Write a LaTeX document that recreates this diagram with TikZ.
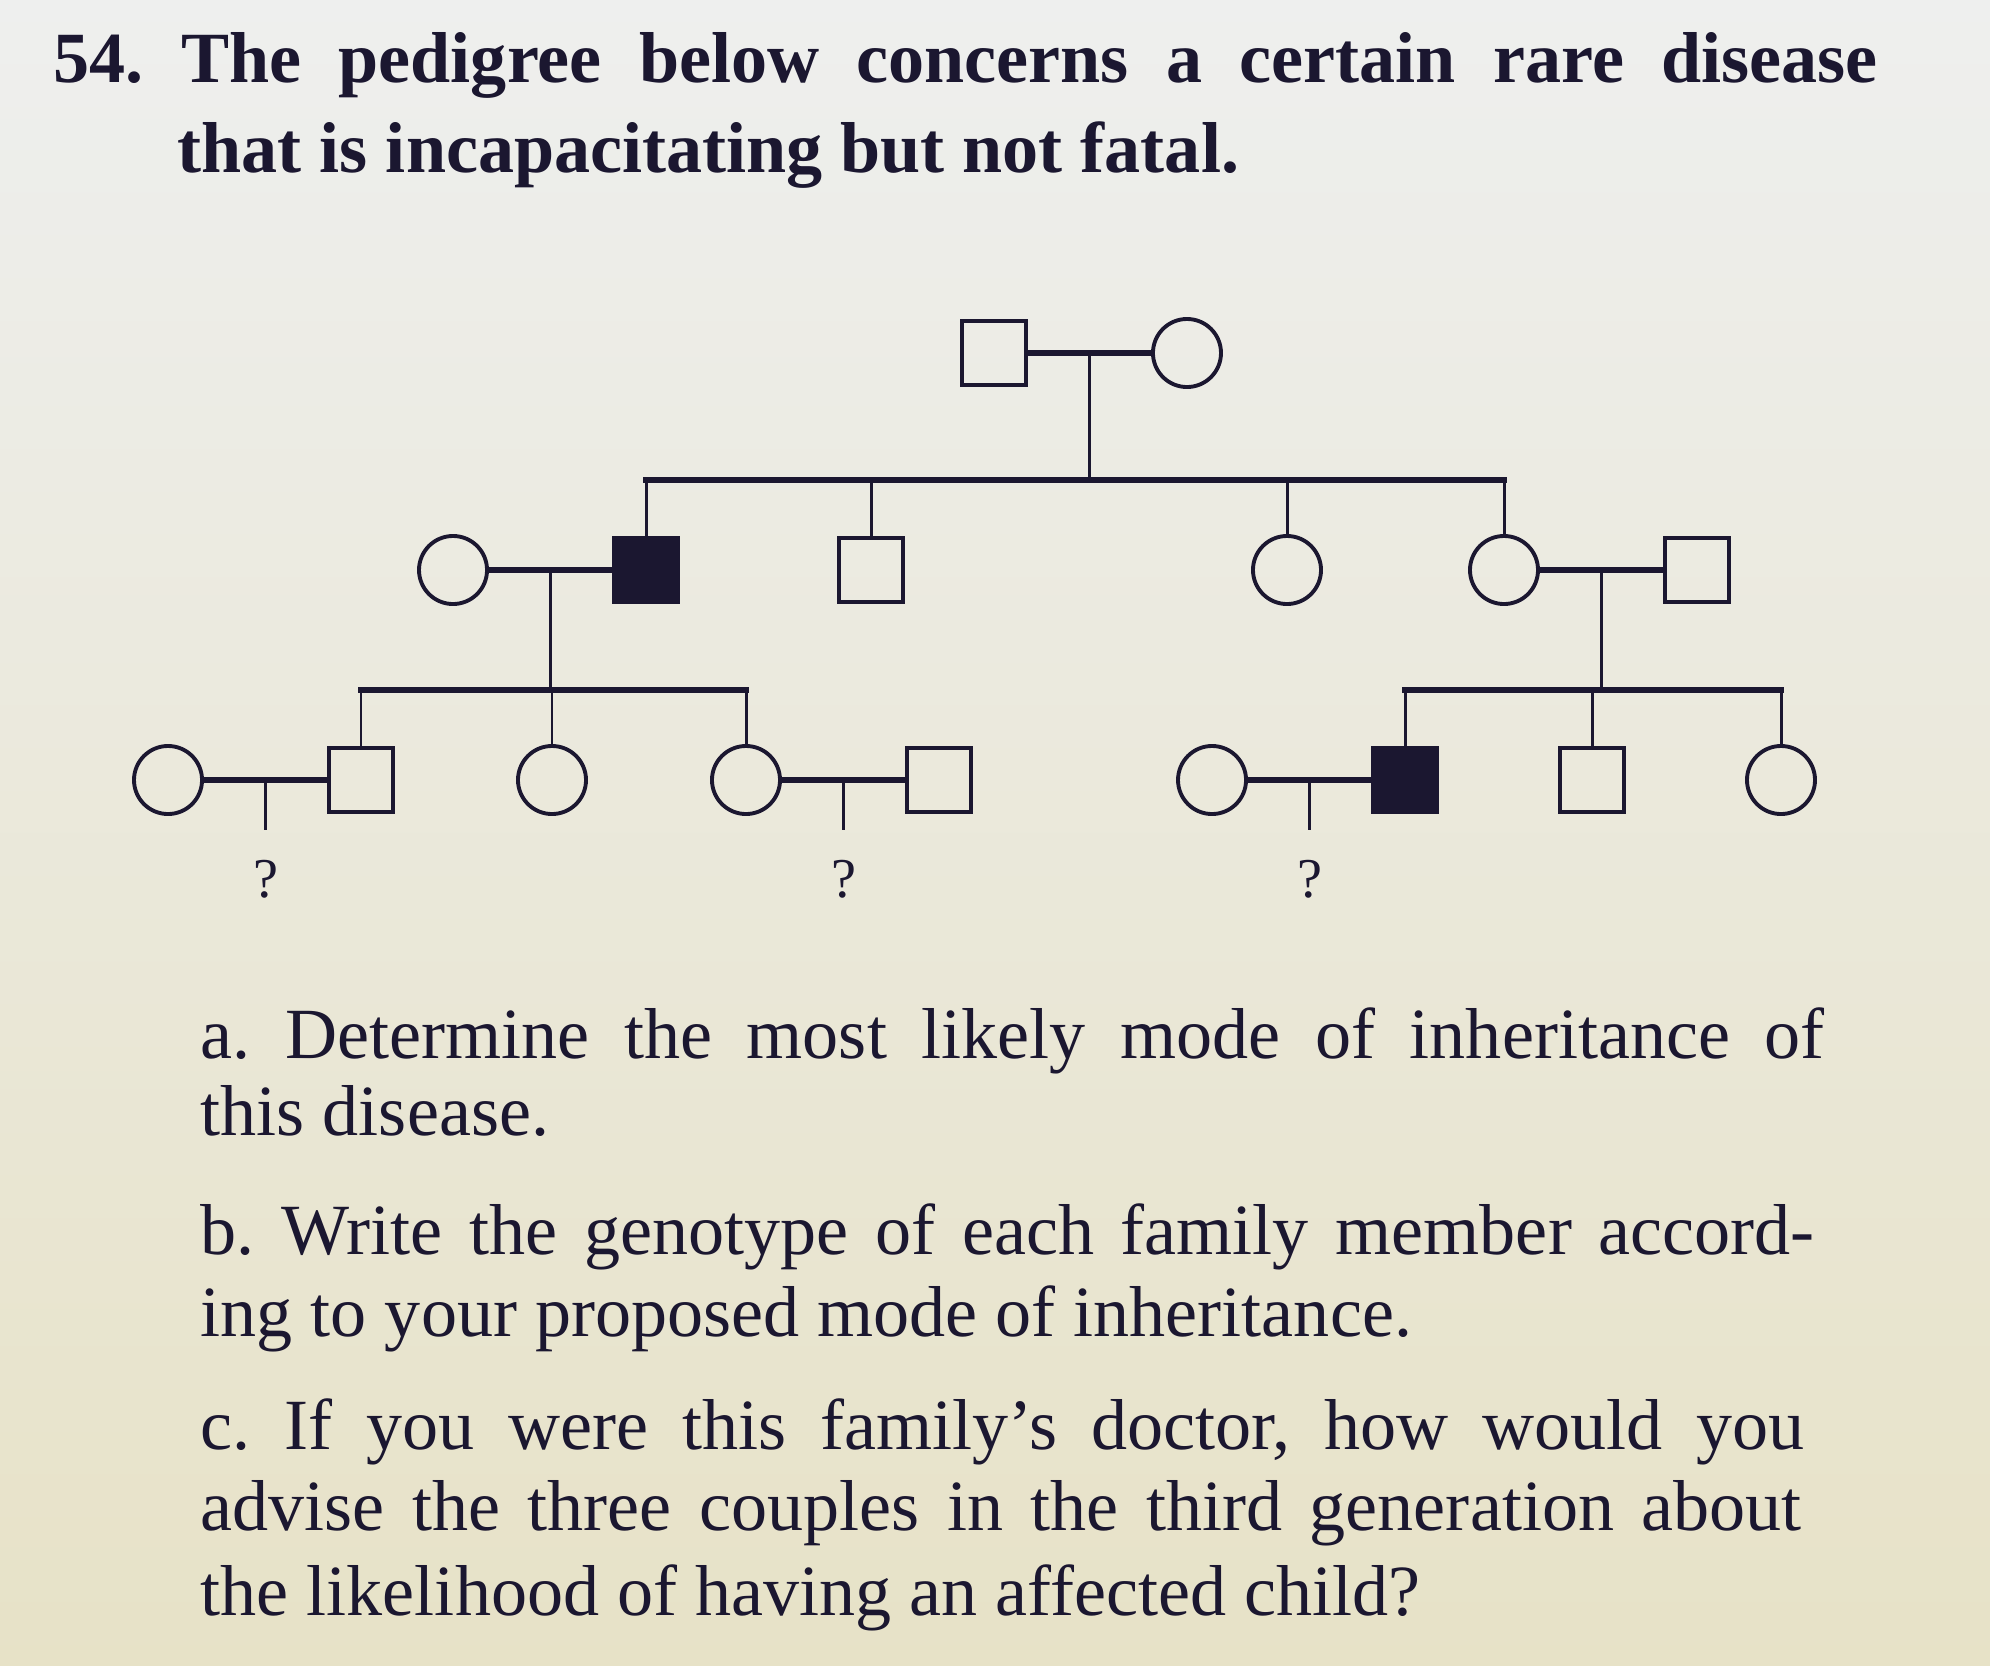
\documentclass[tikz,border=0pt]{standalone}
\usepackage{fontspec}
\setmainfont{Liberation Serif}
\usetikzlibrary{positioning,calc}
\frenchspacing
\definecolor{ink}{HTML}{1B1730}
\definecolor{papertop}{HTML}{EEEFEE}
\definecolor{paperbottom}{HTML}{E7E2C7}
\newcommand{\stemfont}{\fontsize{20.5}{25}\selectfont\bfseries}
\newcommand{\bodyfont}{\fontsize{20.5}{25}\selectfont}
\newcommand{\spread}[2]{\makebox[#1][s]{#2}}
\tikzset{
  person/.style={
    draw=ink,
    line width=1.1pt,
    inner sep=0pt
  },
  male/.style={
    person,
    rectangle,
    minimum size=6.4mm
  },
  female/.style={
    person,
    circle,
    minimum size=6.8mm
  },
  affected/.style={
    male,
    fill=ink
  },
  mate/.style={
    draw=ink,
    line width=1.5pt
  },
  sibship/.style={
    draw=ink,
    line width=1.5pt,
    line cap=rect
  },
  descent/.style={
    draw=ink,
    line width=0.85pt
  },
  unknown/.style={
    font=\fontsize{16}{16}\selectfont,
    text=ink,
    inner sep=0pt
  },
  stemline/.style={
    font=\stemfont,
    text=ink,
    anchor=base west,
    inner sep=0pt
  },
  question/.style={
    font=\bodyfont,
    text=ink,
    anchor=base west,
    inner sep=0pt
  }
}

\begin{document}
\begin{tikzpicture}[x=0.01cm, y=-0.01cm, node distance=12.3mm]

% Page of the photographed book.
\shade[top color=papertop, bottom color=paperbottom] (0,0) rectangle (1990,1666);
\useasboundingbox (0,0) rectangle (1990,1666);

\node[stemline] (stem1) at (53,82)
  {\spread{18.23cm}{54. The pedigree below concerns a certain rare disease}};
\node[stemline] (stem2) at (177,172) {that is incapacitating but not fatal.};

% Generation I
\node[male] (gIm) at (994,353) {};
\node[female, right=of gIm] (gIf) {};
\draw[mate] (gIm) -- (gIf);
\coordinate (mI) at ($(gIm.east)!0.5!(gIf.west)$);
\coordinate (rowII) at (0,480);

% Generation II
\node[affected] (IIa) at (646,570) {};
\node[female, left=of IIa] (IIw) {};
\node[male] (IIb) at (871,570) {};
\node[female] (IIs) at (1287,570) {};
\node[female] (IIc) at (1504,570) {};
\node[male, right=of IIc] (IIh) {};

\draw[descent] (mI) -- (mI |- rowII);
\draw[sibship] (IIa.north |- rowII) -- (IIc.north |- rowII);
\foreach \kid in {IIa,IIb,IIs,IIc}
  \draw[descent] (\kid.north) -- (\kid.north |- rowII);

\draw[mate] (IIw) -- (IIa);
\draw[mate] (IIc) -- (IIh);
\coordinate (mIIL) at ($(IIw.east)!0.5!(IIa.west)$);
\coordinate (mIIR) at ($(IIc.east)!0.5!(IIh.west)$);
\coordinate (rowIII) at (0,690);

% Generation III, left sibship
\node[male] (IIIm1) at (361,780) {};
\node[female, left=of IIIm1] (IIIw1) {};
\node[female] (IIIf2) at (552,780) {};
\node[female] (IIIf3) at (746,780) {};
\node[male, right=of IIIf3] (IIIh3) {};

\draw[descent] (mIIL) -- (mIIL |- rowIII);
\draw[sibship] (IIIm1.north |- rowIII) -- (IIIf3.north |- rowIII);
\foreach \kid in {IIIm1,IIIf2,IIIf3}
  \draw[descent] (\kid.north) -- (\kid.north |- rowIII);

% Generation III, right sibship
\node[affected] (IIIa) at (1405,780) {};
\node[female, left=of IIIa] (IIIw4) {};
\node[male] (IIIb) at (1592,780) {};
\node[female] (IIIs) at (1781,780) {};

\draw[descent] (mIIR) -- (mIIR |- rowIII);
\draw[sibship] (IIIa.north |- rowIII) -- (IIIs.north |- rowIII);
\foreach \kid in {IIIa,IIIb,IIIs}
  \draw[descent] (\kid.north) -- (\kid.north |- rowIII);

% The three couples and their unborn child
\foreach \wife/\husband/\tag in {IIIw1/IIIm1/qL, IIIf3/IIIh3/qM, IIIw4/IIIa/qR} {
  \draw[mate] (\wife) -- (\husband);
  \coordinate (m\tag) at ($(\wife.east)!0.5!(\husband.west)$);
  \draw[descent] (m\tag) -- ++(0,50) coordinate (e\tag);
  \node[unknown, below=3mm of e\tag] (\tag) {?};
}

% Questions
\node[question] (qa1) at (200,1058)
  {\spread{16.23cm}{a. Determine the most likely mode of inheritance of}};
\node[question] (qa2) at (200,1135) {this disease.};
\node[question] (qb1) at (200,1254)
  {\spread{16.13cm}{b. Write the genotype of each family member accord-}};
\node[question] (qb2) at (200,1336) {ing to your proposed mode of inheritance.};
\node[question] (qc1) at (200,1449)
  {\spread{16.03cm}{c. If you were this family's doctor, how would you}};
\node[question] (qc2) at (200,1530)
  {\spread{16.0cm}{advise the three couples in the third generation about}};
\node[question] (qc3) at (200,1615) {the likelihood of having an affected child?};

\end{tikzpicture}
\end{document}
